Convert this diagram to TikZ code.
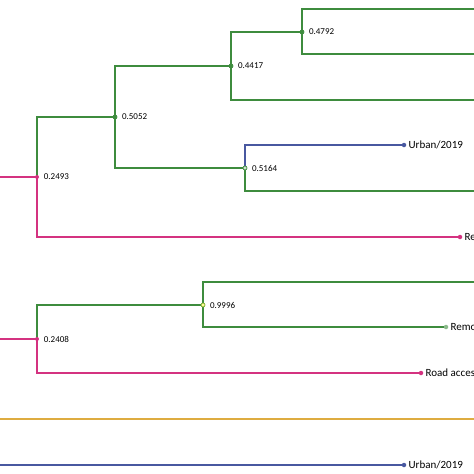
\documentclass[tikz,border=0pt]{standalone}
\usepackage{fontspec}
\setmainfont{Carlito}
\definecolor{clgreen}{RGB}{62,140,62}
\definecolor{clpink}{RGB}{212,50,128}
\definecolor{clblue}{RGB}{72,88,160}
\definecolor{clorange}{RGB}{222,172,64}
\begin{document}
\begin{tikzpicture}[
                x=1pt, y=-1pt,
                edge/.style={line width=1.2pt},
                inner/.style={circle, draw, fill=white, line width=0.7pt, inner sep=0pt, minimum size=4pt},
                leaf/.style={circle, fill, inner sep=0pt, minimum size=4.5pt},
                val/.style={font=\fontsize{9}{10}\selectfont, text=black, inner sep=0pt, xshift=4.5pt},
                leafname/.style={font=\fontsize{11}{12}\selectfont, text=black, inner sep=0pt, xshift=2pt}
            ]
            \useasboundingbox (0,0) rectangle (474,474);
            \clip (0,0) rectangle (474,474);
            % first cluster
            \coordinate (top) at (0,177);
            \coordinate (split) at (37,177);
            \coordinate (mixed) at (115,117);
            \coordinate (upper) at (231,66);
            \coordinate (pair) at (302,32);
            \coordinate (urbanfork) at (245,168);
            \coordinate (pairA) at (474,9);
            \coordinate (pairB) at (474,54);
            \coordinate (upperB) at (474,100);
            \coordinate (forkB) at (474,191);
            % second cluster
            \coordinate (bottom) at (0,339);
            \coordinate (road) at (37,339);
            \coordinate (remote) at (203,305);
            \coordinate (remoteA) at (474,282);
            % single lines
            \coordinate (yellowL) at (0,419);
            \coordinate (yellowR) at (474,419);
            \coordinate (blueL) at (0,465);

            \node[leaf, clblue, label={[leafname]right:Urban/2019}] (urbanA) at (404,145) {};
            \node[leaf, clpink, label={[leafname]right:Remote}] (remoteleaf) at (460,237) {};
            \node[leaf, clgreen, fill=clgreen!60, label={[leafname]right:Remote}] (remleaf) at (446,327) {};
            \node[leaf, clpink, label={[leafname]right:Road access}] (roadleaf) at (421,373) {};
            \node[leaf, clblue, label={[leafname]right:Urban/2019}] (urbanB) at (404,465) {};

            \begin{scope}[edge]
                \draw[clpink] (top) -- (split);
                \draw[clgreen] (split) |- (mixed);
                \draw[clpink] (split) |- (remoteleaf);
                \draw[clgreen] (mixed) |- (upper);
                \draw[clgreen] (mixed) |- (urbanfork);
                \draw[clgreen] (upper) |- (pair);
                \draw[clgreen] (upper) |- (upperB);
                \draw[clgreen] (pair) |- (pairA);
                \draw[clgreen] (pair) |- (pairB);
                \draw[clblue] (urbanfork) |- (urbanA);
                \draw[clgreen] (urbanfork) |- (forkB);
                \draw[clpink] (bottom) -- (road);
                \draw[clgreen] (road) |- (remote);
                \draw[clpink] (road) |- (roadleaf);
                \draw[clgreen] (remote) |- (remoteA);
                \draw[clgreen] (remote) |- (remleaf);
                \draw[clorange] (yellowL) -- (yellowR);
                \draw[clblue] (blueL) -- (urbanB);
            \end{scope}

            \node[leaf, clpink, minimum size=4pt, label={[val]right:0.2493}] (n2493) at (split) {};
            \node[inner, clgreen, label={[val]right:0.5052}] (n5052) at (mixed) {};
            \node[inner, clgreen, label={[val]right:0.4417}] (n4417) at (upper) {};
            \node[inner, clgreen, label={[val]right:0.4792}] (n4792) at (pair) {};
            \node[inner, clgreen, fill=clgreen!25, label={[val]right:0.5164}] (n5164) at (urbanfork) {};
            \node[leaf, clpink, minimum size=4pt, label={[val]right:0.2408}] (n2408) at (road) {};
            \node[inner, clgreen!70!yellow, fill=yellow!40, label={[val]right:0.9996}] (n9996) at (remote) {};
        \end{tikzpicture}
\end{document}
